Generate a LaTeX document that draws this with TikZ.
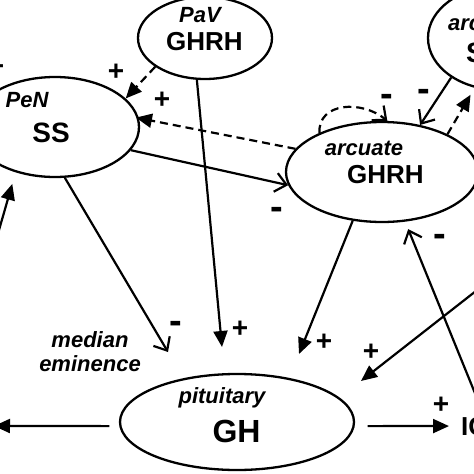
\documentclass[tikz,border=0pt]{standalone}
\usepackage{fontspec}
\setmainfont{Liberation Sans}
\usetikzlibrary{shapes.geometric,arrows.meta}
\begin{document}
\begin{tikzpicture}[x=1pt,y=-1pt,
  ell/.style={ellipse,draw,line width=2.3pt,inner sep=0pt},
  lab/.style={font=\bfseries\itshape\fontsize{22}{24}\selectfont,inner sep=0pt,anchor=base},
  nm/.style={font=\bfseries\fontsize{#1}{#1}\selectfont,inner sep=0pt,anchor=base},
  nm/.default=26,
  sgnp/.style={font=\bfseries\fontsize{28}{28}\selectfont,inner sep=0pt,anchor=base},
  sgnm/.style={font=\bfseries\fontsize{38}{38}\selectfont,inner sep=0pt,anchor=base},
  conn/.style={line width=2.2pt},
  dsh/.style={conn,dash pattern=on 8pt off 5pt},
  fa/.style={-{Triangle[length=16pt,width=14pt]}},
  oa/.style={-{Straight Barb[length=11pt,width=19pt,line width=2.2pt]}}
]
\useasboundingbox (0,0) rectangle (474,474);

% ellipses
\node[ell,minimum width=168pt,minimum height=100pt] (pen) at (55,127) {};
\node[ell,minimum width=134pt,minimum height=82pt] (pav) at (205,38) {};
\node[ell,minimum width=192pt,minimum height=100pt] (arcG) at (382,172) {};
\node[ell,minimum width=144pt,minimum height=104pt] (arcS) at (500,38) {};
\node[ell,minimum width=234pt,minimum height=96pt] (pit) at (237,422) {};

% texts
\node[lab] (penL) at (27,107) {PeN};
\node[nm=28] (penN) at (51,142) {SS};
\node[lab] (pavL) at (200,22) {PaV};
\node[nm] (pavN) at (204.5,50) {GHRH};
\node[lab] (arcGL) at (364,155) {arcuate};
\node[nm] (arcGN) at (385.5,183) {GHRH};
\node[lab,anchor=base west] (arcSL) at (448,30) {arcuate};
\node[nm=28,anchor=base west] (arcSN) at (466,62) {SS};
\node[lab] (pitL) at (222,403) {pituitary};
\node[nm=32] (pitN) at (236.5,442) {GH};
\node[lab] (me1) at (90,347) {median};
\node[lab] (me2) at (90,371) {eminence};
\node[nm,anchor=base west] (igf) at (461,435) {IGF-I};

% free ends
\coordinate (t1) at (168,352);
\coordinate (t2) at (222,347);
\coordinate (t3) at (299,354);
\coordinate (s4) at (490,280);
\coordinate (t4) at (361,381);
\coordinate (s5) at (481,408);
\coordinate (t6) at (-6,426);
\coordinate (s7) at (-3,237);

% connectors
\draw[dsh,fa] (pav.-150) -- (pen.22.5);
\draw[dsh,fa,shorten >=-3pt] (arcG.165.5) -- (pen.6.7);
\draw[conn,oa] (pen.-17.8) -- (arcG.-172);
\draw[conn,oa] (pen.-79) -- (t1);
\draw[conn,fa] (pav.-101) -- (t2);
\draw[conn,fa] (arcG.-121) -- (t3);
\draw[conn,fa] (s4) -- (t4);
\draw[conn,oa,shorten >=8pt] (s5) -- (arcG.-65);
\draw[conn,fa,shorten <=10pt] (pit.182) -- (t6);
\draw[conn,fa,shorten <=13pt,shorten >=12pt] (pit.-2) -- (igf.west);
\draw[conn,oa] (arcS.-141.6) -- (arcG.51);
\draw[dsh,fa,shorten >=8pt] (arcG.30.6) -- (arcS.-117.8);
\draw[dsh,oa] (arcG.148) .. controls (318,102) and (362,100) .. (arcG.84);
\draw[conn,fa,shorten >=12pt] (s7) -- (pen.-131);

% signs
\node[sgnp] (p1) at (116,80) {+};
\node[sgnp] (p2) at (162,108) {+};
\node[sgnp] (p3) at (240,337) {+};
\node[sgnp] (p4) at (324,350) {+};
\node[sgnp] (p5) at (371,360) {+};
\node[sgnp] (p6) at (441,413) {+};
\node[sgnp] (p7) at (-4,75) {+};
\node[sgnm] (m1) at (176,333.5) {-};
\node[sgnm] (m2) at (277,219.5) {-};
\node[sgnm] (m3) at (387,106.5) {-};
\node[sgnm] (m4) at (424,101.5) {-};
\node[sgnm] (m5) at (440,246.5) {-};
\end{tikzpicture}
\end{document}
